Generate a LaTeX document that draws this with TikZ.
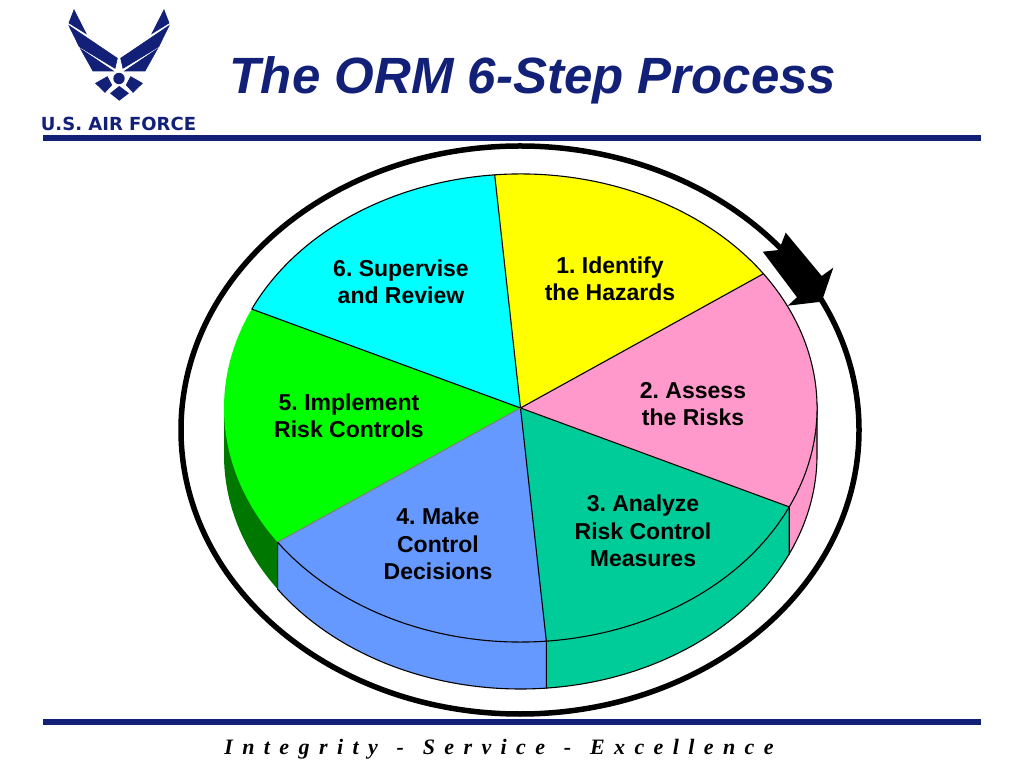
\documentclass[tikz,border=0pt]{standalone}
\usepackage{fontspec}
\setmainfont{Liberation Sans}
\newfontfamily\mottofont{Liberation Serif}
\newfontfamily\logofont{DejaVu Sans}
\usetikzlibrary{positioning,calc}

\definecolor{afnavy}{RGB}{18,32,120}
\definecolor{stepyellow}{RGB}{255,255,0}
\definecolor{steppink}{RGB}{255,153,204}
\definecolor{stepteal}{RGB}{0,204,153}
\definecolor{stepblue}{RGB}{102,153,255}
\definecolor{stepgreen}{RGB}{0,255,0}
\definecolor{stepcyan}{RGB}{0,255,255}
\definecolor{wallgreen}{RGB}{0,120,0}

\tikzset{
  steplabel/.style={font=\fontsize{23}{27.5}\selectfont\bfseries\frenchspacing, align=center, inner sep=0pt},
  bluebar/.style={fill=afnavy, draw=none},
  rim/.style={x radius=296.5pt, y radius=234pt},
  edge/.style={line width=1.1pt},
}

\begin{document}
\begin{tikzpicture}[x=1pt, y=1pt]
    \useasboundingbox (0,0) rectangle (1024,768);
    \coordinate (hub) at (520.5,360);

    % bars
    \fill[bluebar] (43,627) rectangle (981,633);
    \fill[bluebar] (43,43) rectangle (981,49);

    % logo
    \foreach \flip in {1,-1} {
      \begin{scope}[xshift=119pt, xscale=\flip, fill=afnavy, draw=afnavy, line width=0.7pt]
        \filldraw (-45,758) -- (-33,734.5) -- (-50,745) -- cycle;
        \filldraw (-50,742.3) -- (-1.7,709.7) -- (-4,699.7) -- (-39.7,721.3) -- cycle;
        \filldraw (-38.3,719) -- (-5.7,697) -- (-26,697) -- cycle;
        \filldraw (-23.3,684.7) -- (-11.7,691.3) -- (-7.3,683) -- (-14,675.7) -- cycle;
      \end{scope}
    }
    \fill[afnavy] (110,674.7) -- (119.3,682) -- (129,674.7) -- (119.3,667.3) -- cycle;
    \fill[afnavy] (119,689.5) circle (5.7);
    \node (airforce) [font=\logofont\fontsize{18}{18}\selectfont\bfseries\frenchspacing, text=afnavy, inner sep=0pt] at (118.5,644) {U.S. AIR FORCE};

    \node (title) [font=\fontsize{51}{51}\selectfont\bfseries\itshape, text=afnavy, inner sep=0pt] at (533,688) {The ORM 6-Step Process};
    \node (motto) [font=\mottofont\fontsize{22}{22}\selectfont\bfseries\itshape, inner sep=0pt] at (499,19) {\spaceskip=9.4pt I n t e g r i t y\ \ -\ \ S e r v i c e\ \ -\ \ E x c e l l e n c e};

    % ring and arrow
    \draw[line width=5.5pt] (520,338) ellipse [x radius=339pt, y radius=284pt];
    \fill (785.7,535.3) -- (821.7,492) -- (833.3,500.3) -- (821.7,466.3) -- (787.7,462.3) -- (797,470.7) -- (762.7,516.3) -- (779,518) -- cycle;

    % pie walls
    \foreach \s/\e/\col in {0/-25/steppink, -25/-85/stepteal, -85/-145/stepblue} {
      \draw[edge, fill=\col] (hub) ++(\s:296.5 and 234) -- ++(0,-47)
        arc[rim, start angle=\s, end angle=\e] -- ++(0,47) -- cycle;
    }
    \fill[wallgreen] (hub) ++(-145:296.5 and 234) -- ++(0,-47)
      arc[rim, start angle=-145, end angle=-180] -- ++(0,47) -- cycle;

    % pie top
    \foreach \s/\col in {95/stepyellow, 35/steppink, -25/stepteal, -85/stepblue, -145/stepgreen, -205/stepcyan} {
      \fill[\col] (hub) -- ++(\s:296.5 and 234) arc[rim, start angle=\s, end angle=\s-60] -- cycle;
    }
    \foreach \s in {95,35,-25,-85,155} {
      \draw[edge] (hub) -- ++(\s:296.5 and 234);
    }
    \draw[edge, gray] (hub) -- ++(-145:296.5 and 234);
    \draw[edge] (hub) ++(155:296.5 and 234) arc[rim, start angle=155, end angle=-145];

    % step labels
    \node (identify) [steplabel] at (610,489) {1. Identify\\the Hazards};
    \node (assess) [steplabel] at (693,364) {2. Assess\\the Risks};
    \node (analyze) [steplabel] at (643,237) {3. Analyze\\Risk Control\\Measures};
    \node (decide) [steplabel] at (438,224) {4. Make\\Control\\Decisions};
    \node (implement) [steplabel] at (349,352) {5. Implement\\Risk Controls};
    \node (supervise) [steplabel] at (401,486) {6. Supervise\\and Review};
\end{tikzpicture}
\end{document}
